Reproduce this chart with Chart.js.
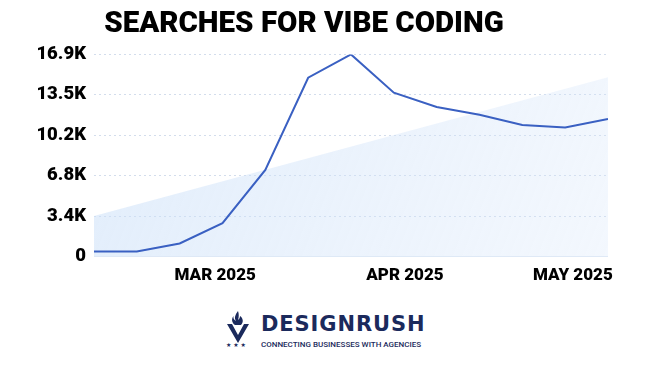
<!DOCTYPE html>
<html>
<head>
<meta charset="utf-8">
<script src="https://cdn.jsdelivr.net/npm/chart.js@4"></script>
<style>
  html, body { margin: 0; padding: 0; background: #fff; }
  .wrap { position: relative; width: 650px; height: 366px; overflow: hidden; }
  .chart-box { position: absolute; left: 0; top: 0; width: 650px; height: 295px; }
  .logo { position: absolute; left: 226px; top: 309px; display: flex; align-items: flex-start; }
  .logo svg { display: block; }
  .brand { margin-left: 11px; color: #1b2a5c; }
  .brand .name { font-family: 'DejaVu Sans', sans-serif; font-size: 21px; font-weight: 700; line-height: 21px; margin-top: 5px; letter-spacing: 0.9px; }
  .brand .tag { font-family: Roboto, sans-serif; font-size: 8px; font-weight: 500; line-height: 9px; margin-top: 5px; letter-spacing: 0; }
</style>
</head>
<body>
<div class="wrap">
  <div class="chart-box"><canvas id="vibeChart"></canvas></div>
  <div class="logo">
    <svg width="24" height="38" viewBox="0 0 24 38">
      <path d="M12 2 C9 6 8 9 10 12 C8 11 7 9 7.5 7 C5 10 6 14 9 16 L15 16 C18 13 17 9 14 7 C14 9 13 10 12 11 C13 8 13 5 12 2 Z" fill="#1b2a5c"/>
      <path d="M1 15 L6 15 L12 26 L18 15 L23 15 L12 34 Z" fill="#1b2a5c"/>
      <text x="0" y="38" font-size="6" fill="#1b2a5c" font-family="DejaVu Sans">★ ★ ★</text>
    </svg>
    <div class="brand">
      <div class="name">DESIGNRUSH</div>
      <div class="tag">CONNECTING BUSINESSES WITH AGENCIES</div>
    </div>
  </div>
</div>
<script>
// weekly search volume, week starting dates
const weeks = ['Feb 9', 'Feb 16', 'Feb 23', 'Mar 2', 'Mar 9', 'Mar 16', 'Mar 23',
               'Mar 30', 'Apr 6', 'Apr 13', 'Apr 20', 'Apr 27', 'May 4'];
const searches = [420, 420, 1100, 2800, 7250, 14950, 16900, 13700, 12500, 11850, 11000, 10800, 11500];

// decorative rising band behind the line (start, end)
const bandValues = [3400, 15000];

const yTickLabels = ['0', '3.4K', '6.8K', '10.2K', '13.5K', '16.9K'];
const xTickLabels = ['MAR 2025', 'APR 2025', 'MAY 2025'];
const xTickWeeks = [2.83, 7.26, 11.18];   // month starts, in weeks from first point

const lastIdx = weeks.length - 1;
const linePoints = searches.map((v, i) => ({ x: i, y: v }));
const bandPoints = [{ x: 0, y: bandValues[0] }, { x: lastIdx, y: bandValues[1] }];

const ctx = document.getElementById('vibeChart').getContext('2d');

new Chart(ctx, {
    type: 'line',
    data: {
        datasets: [
            {
                label: 'Searches',
                data: linePoints,
                borderColor: '#3a60c2',
                borderWidth: 2,
                pointRadius: 0,
                tension: 0,
                fill: false,
                order: 0
            },
            {
                label: 'band',
                data: bandPoints,
                borderWidth: 0,
                pointRadius: 0,
                fill: 'origin',
                order: 1,
                backgroundColor: function(c) {
                    const area = c.chart.chartArea;
                    if (!area) return 'rgba(205,224,248,0.5)';
                    const g = c.chart.ctx.createLinearGradient(area.left, area.top, area.right, area.bottom);
                    g.addColorStop(0, 'rgba(200,222,248,0.55)');
                    g.addColorStop(1, 'rgba(215,230,250,0.3)');
                    return g;
                }
            }
        ]
    },
    options: {
        responsive: true,
        maintainAspectRatio: false,
        animation: false,
        layout: { padding: { left: 0, right: 42, top: 0, bottom: 0 } },
        plugins: {
            legend: { display: false },
            tooltip: { enabled: false },
            title: {
                display: true,
                text: 'SEARCHES FOR VIBE CODING',
                color: '#000',
                font: { family: 'Roboto', size: 29.5, weight: 900 },
                padding: { top: 7, bottom: 12 }
            }
        },
        scales: {
            x: {
                type: 'linear',
                min: 0,
                max: lastIdx,
                grid: { display: false, drawTicks: false },
                border: { display: false },
                afterBuildTicks: function(scale) {
                    scale.ticks = xTickWeeks.map(v => ({ value: v }));
                },
                ticks: {
                    color: '#000',
                    padding: 9,
                    maxRotation: 0,
                    autoSkip: false,
                    font: { family: 'Roboto', size: 17, weight: 900 },
                    callback: function(value, index) { return xTickLabels[index]; }
                }
            },
            y: {
                min: 0,
                max: 16900,
                afterFit: function(scale) { scale.width = 94; },
                afterBuildTicks: function(scale) {
                    scale.ticks = yTickLabels.map((t, i) => ({ value: i * 3380 }));
                },
                grid: {
                    drawTicks: false,
                    lineWidth: 1,
                    color: function(c) {
                        return c.tick && c.tick.value === 0 ? '#dfe9f6' : 'rgba(196,210,230,0.75)';
                    }
                },
                border: {
                    display: false,
                    dash: function(c) { return c.tick && c.tick.value === 0 ? [] : [2, 3]; }
                },
                ticks: {
                    color: '#000',
                    padding: 8,
                    font: { family: 'Roboto', size: 18.5, weight: 900 },
                    callback: function(value, index) { return yTickLabels[index]; }
                }
            }
        }
    }
});
</script>
</body>
</html>
